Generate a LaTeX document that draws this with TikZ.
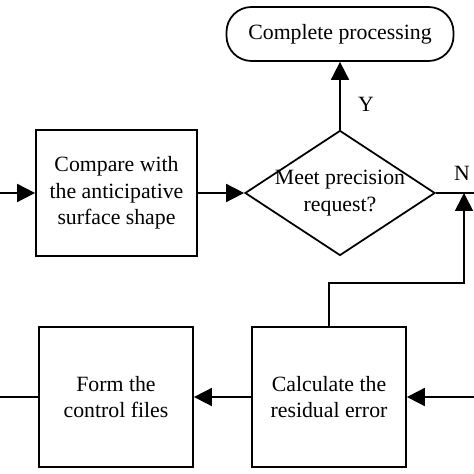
\documentclass[tikz,border=0pt]{standalone}
\usepackage{fontspec}
\setmainfont{Liberation Serif}
\usepackage{xcolor}
\definecolor{Black}{RGB}{0,0,0}
\definecolor{White}{RGB}{255,255,255}
\usepackage{tikz}
\usetikzlibrary{shapes.geometric, arrows.meta}

\begin{document}
\begin{tikzpicture}[
		procbox/.style={draw=Black, line width=1pt, align=center, inner sep=0pt},
		terminal/.style={draw=Black, line width=1pt, rounded corners=0.5cm, minimum width=4.54cm, minimum height=1.08cm},
		decision/.style={draw=Black, line width=1pt, diamond, inner sep=0pt, minimum width=3.8cm, minimum height=2.5cm},
		flow/.style={line width=1pt, -{Triangle[length=0.36cm, width=0.36cm]}},
		plain/.style={line width=1pt},
		font=\fontsize{12.4}{15.1}\selectfont]

		\useasboundingbox[fill=White] (0,0) rectangle (9.48,9.48);

		% Boxes
		\node[terminal] (done) at (6.80, 8.80) {Complete processing};
		\node[decision, label={[align=center]center:Meet precision\\request?}] (meet) at (6.80, 5.62) {};
		\node[procbox, minimum width=3.22cm, minimum height=2.52cm] (compare) at (2.33, 5.62) {Compare with\\the anticipative\\surface shape};
		\node[procbox, minimum width=3.08cm, minimum height=2.80cm] (calc) at (6.58, 1.54) {Calculate the\\residual error};
		\node[procbox, minimum width=3.08cm, minimum height=2.80cm] (form) at (2.32, 1.54) {Form the\\control files};

		% Free ends
		\coordinate (inTop) at (0, 5.62);
		\coordinate (outTop) at (9.48, 5.62);
		\coordinate (inBot) at (9.48, 1.54);
		\coordinate (outBot) at (0, 1.54);
		\coordinate (loopR) at (9.28, 3.82);

		% Lines
		\draw[flow] (inTop) -- (compare.west);
		\draw[flow] (compare.east) -- (meet.west);
		\draw[flow] (meet.north) -- (done.south);
		\draw[plain] (meet.east) -- (outTop);
		\draw[flow] (calc.north) |- (loopR) -- (loopR |- meet.east);
		\draw[flow] (inBot) -- (calc.east);
		\draw[flow] (calc.west) -- (form.east);
		\draw[plain] (form.west) -- (outBot);

		% Labels
		\node (yes) at (7.32, 7.40) {Y};
		\node (no) at (9.24, 6.02) {N};

	\end{tikzpicture}
\end{document}
